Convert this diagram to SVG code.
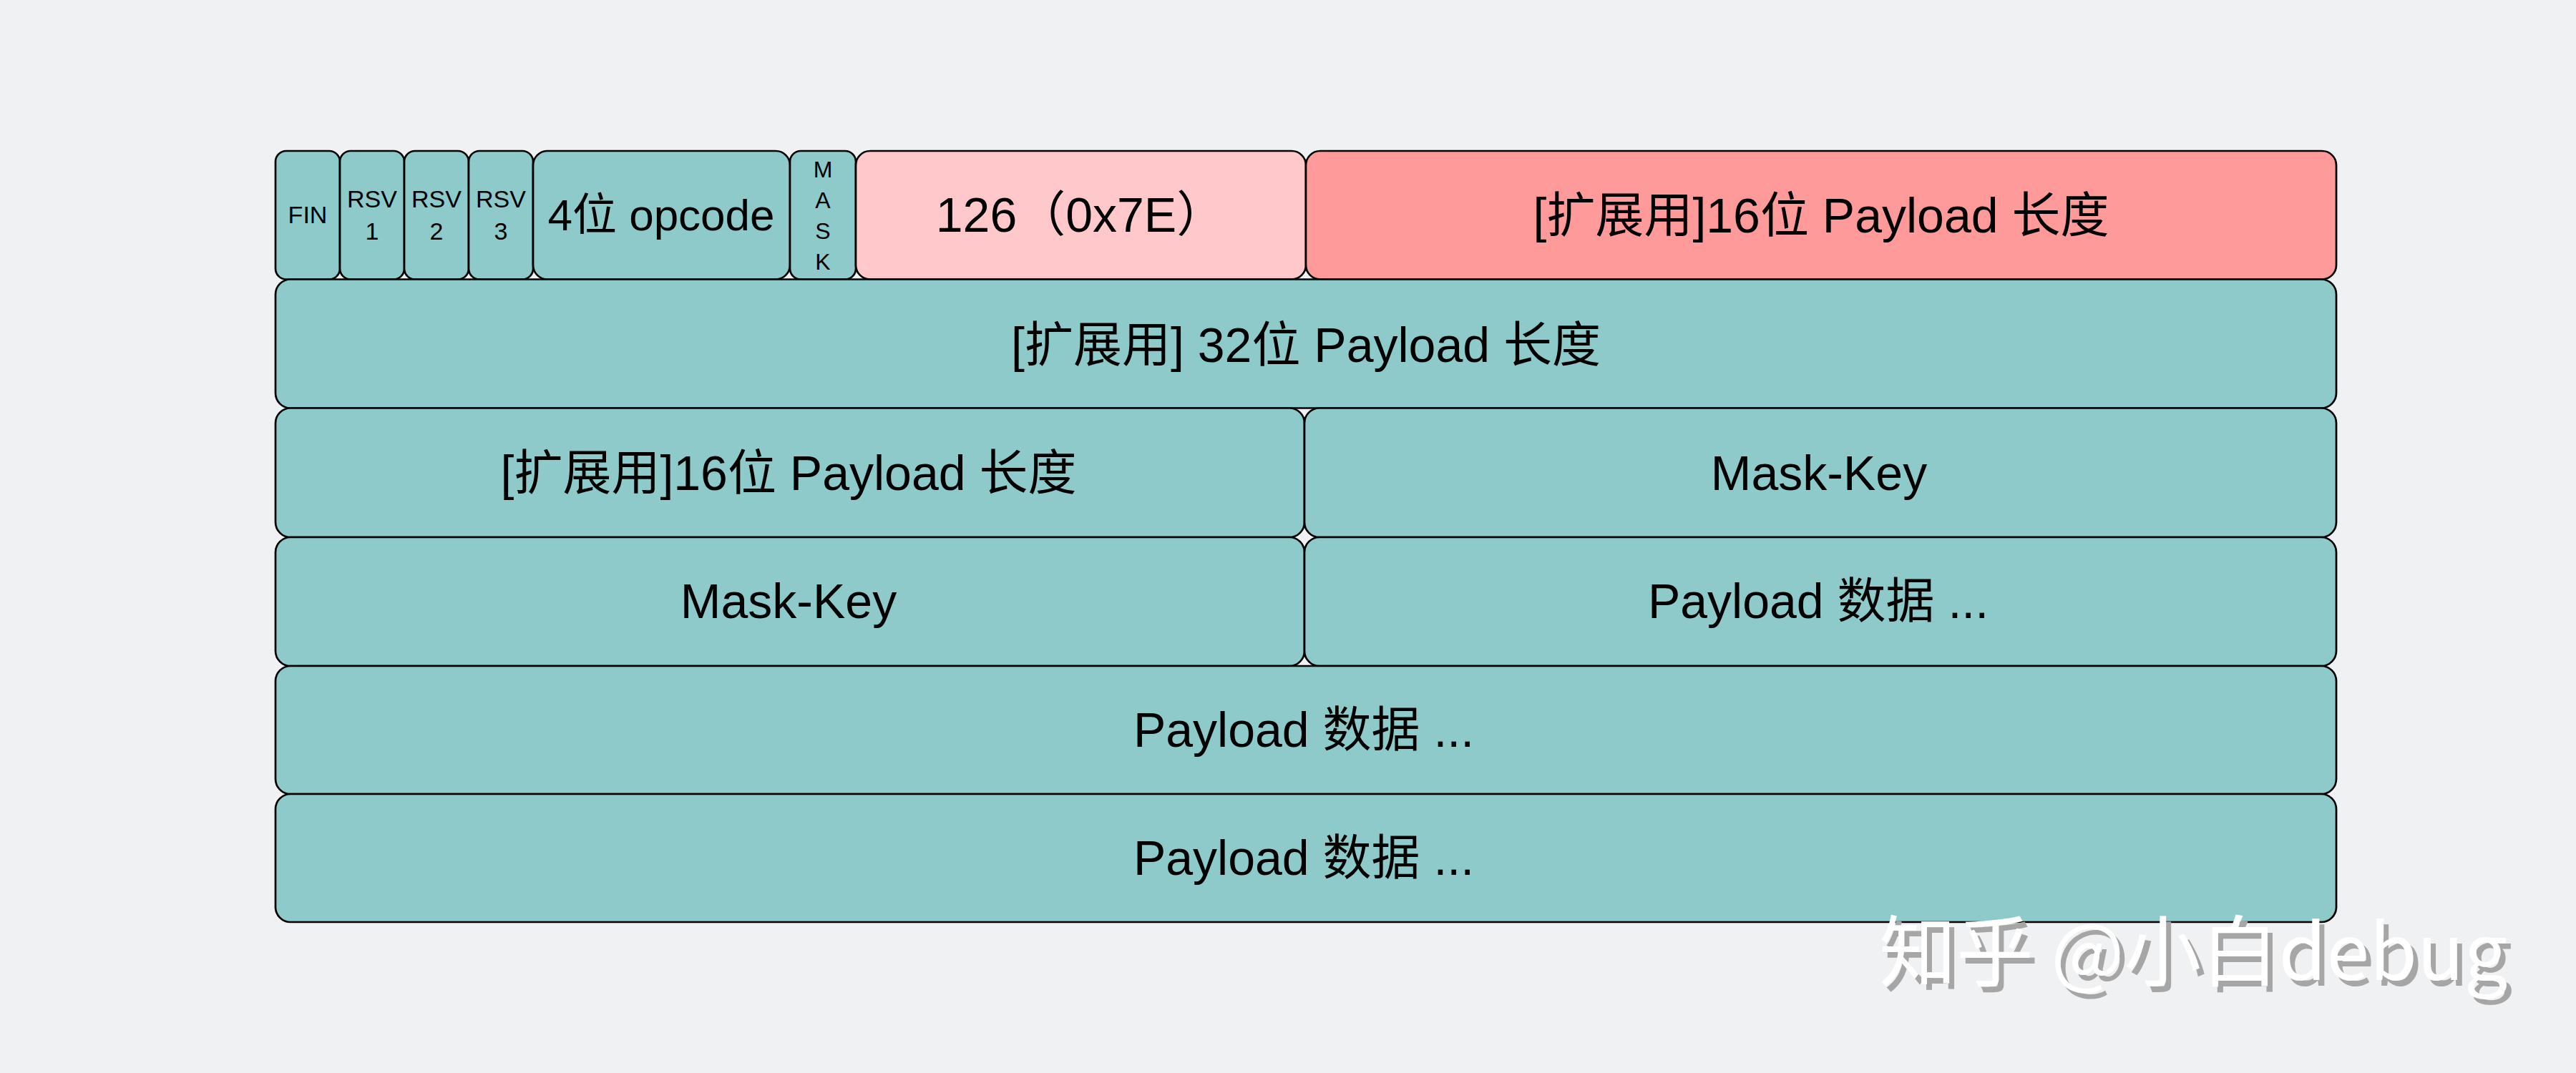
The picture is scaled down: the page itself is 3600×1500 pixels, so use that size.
<svg xmlns="http://www.w3.org/2000/svg" width="3600" height="1500" viewBox="0 0 3600 1500">
  <style>
    .box { stroke: #000000; stroke-width: 2.7; }
    .teal { fill: #8DCAC9; }
    .pink { fill: #FFC9CB; }
    .red { fill: #FF9A9A; }
    text { font-family: "Liberation Sans", "Noto Sans CJK SC", sans-serif; fill: #000000; text-anchor: middle; }
    .big { font-size: 68px; }
    .mid { font-size: 62px; }
    .small { font-size: 34px; }
    .tiny { font-size: 32px; }
    .wm { font-family: "Noto Sans CJK SC", "Liberation Sans", sans-serif; font-size: 108px; text-anchor: start; }
  </style>
  <defs>
    <filter id="wmShadow" x="-10%" y="-30%" width="130%" height="160%">
      <feDropShadow dx="7" dy="8" stdDeviation="0.6" flood-color="#A6A6A6" flood-opacity="1"/>
    </filter>
  </defs>
  <rect x="0" y="0" width="3600" height="1500" fill="#F0F1F3"/>

  <g id="fin">
    <rect class="box teal" x="385" y="211" width="90" height="179.5" rx="15" ry="15"/>
    <text class="small" x="430" y="312">FIN</text>
  </g>
  <g id="rsv1">
    <rect class="box teal" x="475" y="211" width="90" height="179.5" rx="15" ry="15"/>
    <text class="small" x="520" y="290">RSV</text>
    <text class="small" x="520" y="335">1</text>
  </g>
  <g id="rsv2">
    <rect class="box teal" x="565" y="211" width="90" height="179.5" rx="15" ry="15"/>
    <text class="small" x="610" y="290">RSV</text>
    <text class="small" x="610" y="335">2</text>
  </g>
  <g id="rsv3">
    <rect class="box teal" x="655" y="211" width="90" height="179.5" rx="15" ry="15"/>
    <text class="small" x="700" y="290">RSV</text>
    <text class="small" x="700" y="335">3</text>
  </g>
  <g id="opcode">
    <rect class="box teal" x="745" y="211" width="359" height="179.5" rx="20" ry="20"/>
    <text class="mid" x="924" y="322">4位 opcode</text>
  </g>
  <g id="mask">
    <rect class="box teal" x="1104" y="211" width="92" height="179.5" rx="15" ry="15"/>
    <text class="tiny" x="1150" y="248">M</text>
    <text class="tiny" x="1150" y="291">A</text>
    <text class="tiny" x="1150" y="334">S</text>
    <text class="tiny" x="1150" y="377">K</text>
  </g>
  <g id="payload-len">
    <rect class="box pink" x="1196" y="211" width="629" height="179.5" rx="20" ry="20"/>
    <text class="big" x="1510" y="324">126（0x7E）</text>
  </g>
  <g id="ext16-top">
    <rect class="box red" x="1825" y="211" width="1440" height="179.5" rx="20" ry="20"/>
    <text class="big" x="2545" y="325">[扩展用]16位 Payload 长度</text>
  </g>

  <g id="ext32">
    <rect class="box teal" x="385" y="390.5" width="2880" height="180" rx="21" ry="21"/>
    <text class="big" x="1825" y="506">[扩展用] 32位 Payload 长度</text>
  </g>

  <g id="ext16-left">
    <rect class="box teal" x="385" y="570.5" width="1438" height="180.5" rx="21" ry="21"/>
    <text class="big" x="1102" y="685">[扩展用]16位 Payload 长度</text>
  </g>
  <g id="maskkey-right">
    <rect class="box teal" x="1823" y="570.5" width="1442" height="180.5" rx="21" ry="21"/>
    <text class="big" x="2542" y="685">Mask-Key</text>
  </g>

  <g id="maskkey-left">
    <rect class="box teal" x="385" y="751" width="1438" height="180" rx="21" ry="21"/>
    <text class="big" x="1102" y="864">Mask-Key</text>
  </g>
  <g id="payload-data-1">
    <rect class="box teal" x="1823" y="751" width="1442" height="180" rx="21" ry="21"/>
    <text class="big" x="2541" y="864">Payload 数据 ...</text>
  </g>

  <g id="payload-data-2">
    <rect class="box teal" x="385" y="931" width="2880" height="179" rx="21" ry="21"/>
    <text class="big" x="1822" y="1044">Payload 数据 ...</text>
  </g>

  <g id="payload-data-3">
    <rect class="box teal" x="385" y="1110" width="2880" height="179" rx="21" ry="21"/>
    <text class="big" x="1822" y="1223">Payload 数据 ...</text>
  </g>

  <g id="connectors"/>

  <g id="watermark">
    <text class="wm" x="2626" y="1370" filter="url(#wmShadow)" style="fill:#FFFFFF">知乎 @小白debug</text>
  </g>
</svg>
